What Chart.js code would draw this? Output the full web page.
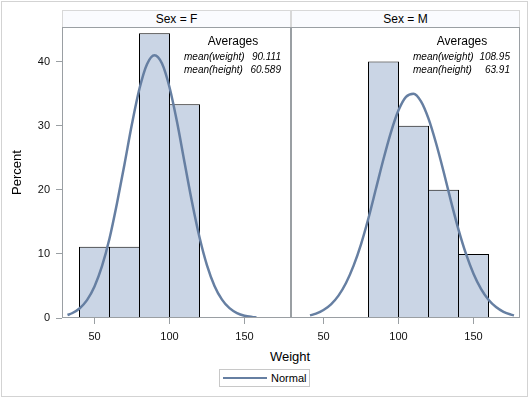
<!DOCTYPE html>
<html>
<head>
<meta charset="utf-8">
<script src="https://cdn.jsdelivr.net/npm/chart.js@4"></script>
<style>
  body { margin: 0; background: #fff; font-family: "Liberation Sans", Arial, sans-serif; color: #000; }
  #wrap { position: relative; width: 530px; height: 397px; overflow: hidden; }
  #outer { position: absolute; left: 1px; top: 1px; width: 527px; height: 396px; box-sizing: border-box; border: 1px solid #d3d3d3; }
  canvas { position: absolute; top: 0; }
  .hdr { position: absolute; top: 10px; height: 17px; box-sizing: border-box; background: #fafbfe; border: 1px solid #d8d8d8; border-bottom: none; font-size: 12px; line-height: 16px; text-align: center; }
  .txt { position: absolute; white-space: nowrap; }
  .avg { font-size: 12px; line-height: 16px; text-align: center; width: 100px; }
  .lab { font-size: 10px; font-style: italic; line-height: 13px; }
  .val { font-size: 10px; font-style: italic; line-height: 13px; text-align: right; width: 60px; }
</style>
</head>
<body>
<div id="wrap">
  <div id="outer"></div>
  <div class="hdr" id="hdrF" style="left:62px;width:229px;"></div>
  <div class="hdr" id="hdrM" style="left:291px;width:229px;"></div>
  <canvas id="chartF" width="293" height="345" style="left:0px;"></canvas>
  <canvas id="chartM" width="239" height="345" style="left:291px;"></canvas>

  <div class="txt avg" style="left:183px;top:33px;">Averages</div>
  <div class="txt lab" style="left:184px;top:50px;">mean(weight)</div>
  <div class="txt val" id="wF" style="left:221px;top:50px;"></div>
  <div class="txt lab" style="left:184px;top:63px;">mean(height)</div>
  <div class="txt val" id="hF" style="left:221px;top:63px;"></div>

  <div class="txt avg" style="left:412px;top:33px;">Averages</div>
  <div class="txt lab" style="left:413px;top:50px;">mean(weight)</div>
  <div class="txt val" id="wM" style="left:450px;top:50px;"></div>
  <div class="txt lab" style="left:413px;top:63px;">mean(height)</div>
  <div class="txt val" id="hM" style="left:450px;top:63px;"></div>

  <div class="txt" style="left:240px;width:100px;top:349px;font-size:13px;line-height:16px;text-align:center;">Weight</div>
  <div style="position:absolute;left:219px;top:369px;width:91px;height:18px;box-sizing:border-box;border:1px solid #c8c8c8;">
    <div style="position:absolute;left:3px;top:7px;width:44px;height:2px;background:#667fa2;"></div>
    <div class="txt" style="left:51px;top:0px;font-size:11px;line-height:16px;">Normal</div>
  </div>
</div>

<script>
// panels and averages shown in the insets
const panelTitles = ['Sex = F', 'Sex = M'];
const meanWeight = ['90.111', '108.95'];
const meanHeight = ['60.589', '63.91'];

// histogram bins (centre of each 20 lb bin) and percent per bin
const binsF = [50, 70, 90, 110];
const pctF = [11.11, 11.11, 44.44, 33.33];
const binsM = [90, 110, 130, 150];
const pctM = [40, 30, 20, 10];

// normal curve
const curveXF = [32, 35, 40, 45, 50, 55, 60, 65, 70, 75, 80, 85, 90, 95, 100, 105, 110, 115, 120, 125, 130, 135, 140, 145, 150, 155, 158];
const curveYF = [0.47, 0.74, 1.49, 2.79, 4.92, 8.08, 12.4, 17.9, 24.0, 30.3, 35.8, 39.6, 41.0, 39.7, 36.0, 30.6, 24.3, 18.1, 12.6, 8.22, 5.01, 2.87, 1.53, 0.77, 0.36, 0.16, 0.09];
const curveXM = [41, 45, 50, 55, 60, 65, 70, 75, 80, 85, 90, 95, 100, 105, 110, 115, 120, 125, 130, 135, 140, 145, 150, 155, 160, 165, 170, 175, 177];
const curveYM = [0.41, 0.68, 1.24, 2.13, 3.49, 5.46, 8.13, 11.5, 15.6, 20.2, 24.8, 29.0, 32.4, 34.5, 35.0, 33.8, 31.1, 27.3, 22.9, 18.2, 13.8, 10.0, 6.92, 4.55, 2.85, 1.71, 0.97, 0.53, 0.41];

const xTicks = [50, 100, 150];
const yTicks = [0, 10, 20, 30, 40];

const axisGray = '#9a9fa3';
const barFill = '#cad5e5';
const lineBlue = '#667fa2';
const fontFam = '"Liberation Sans", Arial, sans-serif';

document.getElementById('hdrF').innerText = panelTitles[0];
document.getElementById('hdrM').innerText = panelTitles[1];
document.getElementById('wF').innerText = meanWeight[0];
document.getElementById('hF').innerText = meanHeight[0];
document.getElementById('wM').innerText = meanWeight[1];
document.getElementById('hM').innerText = meanHeight[1];

// plot frame round the chart area
const framePlugin = {
  id: 'frame',
  afterDraw(chart) {
    const { ctx, chartArea: a } = chart;
    ctx.save();
    ctx.strokeStyle = axisGray;
    ctx.lineWidth = 1;
    ctx.strokeRect(a.left + 0.5, a.top + 0.5, a.right - a.left - 1, a.bottom - a.top - 1);
    ctx.restore();
  }
};

const xMin = 28.333, xMax = 181;

function makePanel(id, bins, pct, cx, cy, showY, padRight) {
  return new Chart(document.getElementById(id), {
    type: 'bar',
    data: {
      datasets: [
        {
          type: 'line', label: 'Normal', order: 0,
          data: cx.map((x, i) => ({ x: x, y: cy[i] })),
          borderColor: lineBlue, borderWidth: 2.5, pointRadius: 0,
          cubicInterpolationMode: 'monotone', fill: false
        },
        {
          type: 'bar', order: 1,
          data: bins.map((x, i) => ({ x: x, y: pct[i] })),
          backgroundColor: barFill, borderColor: '#000',
          borderWidth: { top: 1, left: 1, right: 1, bottom: 0 },
          borderSkipped: false,
          // 1px wider than the bin so neighbouring outlines share a pixel
          barPercentage: 31 / 30, categoryPercentage: 1
        }
      ]
    },
    options: {
      responsive: false, animation: false,
      layout: { padding: { top: 27, right: padRight, left: 0, bottom: 0 } },
      plugins: { legend: { display: false }, tooltip: { enabled: false } },
      scales: {
        x: {
          type: 'linear', min: xMin, max: xMax, offset: false,
          afterBuildTicks: s => { s.ticks = xTicks.map(v => ({ value: v })); },
          afterFit: s => { s.height = 27; },
          grid: { drawOnChartArea: false, drawTicks: true, tickLength: 6, color: axisGray, offset: false },
          border: { display: false },
          ticks: { color: '#111', font: { family: fontFam, size: 11 }, padding: 6, maxRotation: 0 }
        },
        y: {
          display: showY, min: 0, max: 45.4,
          afterBuildTicks: s => { s.ticks = yTicks.map(v => ({ value: v })); },
          afterFit: s => { s.width = showY ? 62 : 0; },
          grid: { drawOnChartArea: false, drawTicks: true, tickLength: 6, color: axisGray },
          border: { display: false },
          ticks: { color: '#111', font: { family: fontFam, size: 11 }, padding: 6 },
          title: { display: true, text: 'Percent', color: '#000', font: { family: fontFam, size: 13 }, padding: { top: 10, bottom: 0 } }
        }
      }
    },
    plugins: [framePlugin]
  });
}

makePanel('chartF', binsF, pctF, curveXF, curveYF, true, 2);
makePanel('chartM', binsM, pctM, curveXM, curveYM, false, 10);
</script>
</body>
</html>
